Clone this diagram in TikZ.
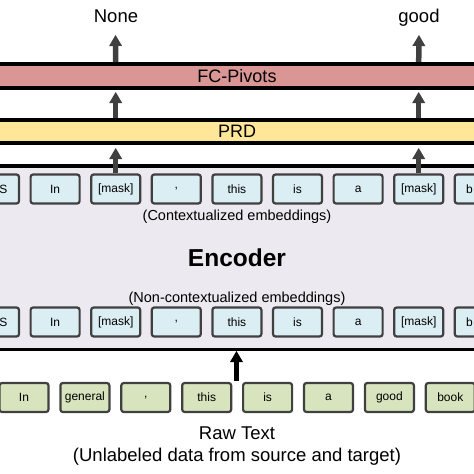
\documentclass[tikz,border=0pt]{standalone}
\usepackage{fontspec}
\setmainfont{Liberation Sans}
\usetikzlibrary{arrows.meta}
\definecolor{fcpink}{RGB}{218,150,148}
\definecolor{prdyellow}{RGB}{255,230,153}
\definecolor{encfill}{RGB}{236,233,240}
\definecolor{tokblue}{RGB}{219,238,243}
\definecolor{rawgreen}{RGB}{215,228,189}
\definecolor{tokborder}{RGB}{64,64,64}
\definecolor{arrgray}{RGB}{64,64,64}
\begin{document}
\begin{tikzpicture}[x=1pt,y=-1pt,
  bar/.style={draw=black, line width=4pt, minimum width=520pt, minimum height=24pt, inner sep=0pt, font=\fontsize{18}{20}\selectfont},
  tokfont/.style={font=\fontsize{12}{14}\selectfont, inner sep=0pt},
  tokbox/.style={draw=tokborder, line width=2.2pt, rounded corners=2.5pt, minimum width=49pt, minimum height=29pt, inner sep=0pt, tokfont},
  enctok/.style={tokbox, fill=tokblue},
  rawtok/.style={tokbox, fill=rawgreen},
  garrow/.style={draw=arrgray, line width=5.5pt, -{Triangle[length=11pt,width=13pt,line width=0pt]}},
  barrow/.style={draw=black, line width=5pt, -{Triangle[length=11pt,width=13pt,line width=0pt]}},
  lbl/.style={font=\fontsize{18.5}{22}\selectfont, anchor=base, inner sep=0pt},
  sublbl/.style={font=\fontsize{14.5}{17}\selectfont, anchor=base, inner sep=0pt},
]
\useasboundingbox (0,0) rectangle (474,474);
\clip (0,0) rectangle (474,474);

% output labels
\node[lbl] (none) at (116,22.7) {None};
\node[lbl] (good) at (419,22.7) {good};

% bars
\node[bar, fill=fcpink] (fc) at (237,76) {FC-Pivots};
\node[bar, fill=prdyellow, minimum height=23pt] (prd) at (237,131.5) {PRD};

% encoder
\node[draw=black, line width=3.5pt, fill=encfill, minimum width=520pt, minimum height=183.5pt, inner sep=0pt] (enc) at (237,257.5) {};
\node[sublbl] (ctx) at (237,220) {(Contextualized embeddings)};
\node[font=\bfseries\fontsize{24.5}{28}\selectfont, anchor=base, inner sep=0pt] (enclbl) at (237,266) {Encoder};
\node[sublbl] (nctx) at (237,302) {(Non-contextualized embeddings)};

\foreach \t [count=\i] in {{},In,[mask],{,},this,is,a,[mask],{}}{
  \node[enctok] (e\i) at ({-5.5+(\i-1)*60.6},189) {\t};
  \node[enctok] (b\i) at ({-5.5+(\i-1)*60.6},322) {\t};
}
% partly hidden end tokens
\node[tokfont] (e1t) at (3.5,189) {S};
\node[tokfont] (b1t) at (3.5,322) {S};
\node[tokfont] (e9t) at (469.5,189) {b};
\node[tokfont] (b9t) at (469.5,322) {b};

% raw tokens
\foreach \t [count=\i] in {In,general,{,},this,is,a,good,book}{
  \node[rawtok] (r\i) at ({24+(\i-1)*60.9},397.5) {\t};
}
\node[lbl] (raw) at (237,439.5) {Raw Text};
\node[lbl] (unl) at (237,461) {(Unlabeled data from source and target)};

% arrows
\coordinate (upL) at (115.5,35);
\coordinate (upR) at (419,35);
\draw[garrow] (fc.north -| e3) -- (upL);
\draw[garrow] (fc.north -| e8) -- (upR);
\draw[garrow, shorten >=2pt] (prd.north -| e3) -- (fc.south -| e3);
\draw[garrow, shorten >=2pt] (prd.north -| e8) -- (fc.south -| e8);
\draw[garrow, shorten >=3pt] (e3.north) -- (prd.south -| e3);
\draw[garrow, shorten >=3pt] (e8.north) -- (prd.south -| e8);
\coordinate (rawmid) at (236.5,381);
\draw[barrow] (rawmid) -- (enc.south -| rawmid);
\end{tikzpicture}
\end{document}
